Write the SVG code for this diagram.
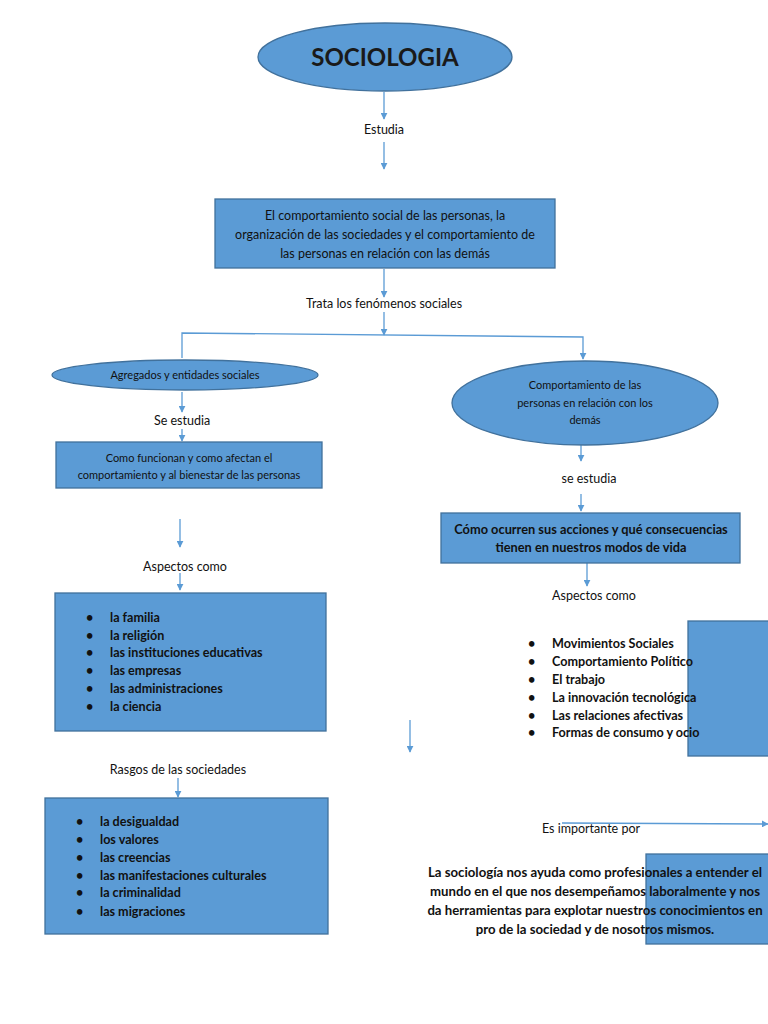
<svg xmlns="http://www.w3.org/2000/svg" width="768" height="1024" viewBox="0 0 768 1024">
<style>
.sh{fill:#5b9bd5;stroke:#41719c;stroke-width:1.3}
.t{font-family:Lato,"Liberation Sans",sans-serif;fill:#111;font-size:12.5px}
.c{text-anchor:middle}
.b{font-weight:bold}
.s{font-size:11px}
.li{font-weight:bold;font-size:12.6px}
.ln{stroke:#5b9bd5;stroke-width:1.3;fill:none}
</style>
<defs>
<marker id="ah" viewBox="0 0 10 10" refX="9" refY="5" markerWidth="7" markerHeight="7" orient="auto" markerUnits="userSpaceOnUse">
<path d="M0,0 L10,5 L0,10 z" fill="#5b9bd5"/>
</marker>
</defs>
<rect width="768" height="1024" fill="#fff"/>
<g id="connectors">
<line class="ln" x1="384" y1="92" x2="384" y2="119" marker-end="url(#ah)"/>
<line class="ln" x1="384" y1="142" x2="384" y2="169" marker-end="url(#ah)"/>
<line class="ln" x1="384" y1="269" x2="384" y2="297" marker-end="url(#ah)"/>
<line class="ln" x1="384" y1="312" x2="384" y2="335" marker-end="url(#ah)"/>
<polyline class="ln" points="182,358 182,333 583,337 583,359" marker-end="url(#ah)"/>
<line class="ln" x1="182" y1="392" x2="182" y2="412" marker-end="url(#ah)"/>
<line class="ln" x1="182" y1="429" x2="182" y2="441" marker-end="url(#ah)"/>
<line class="ln" x1="581" y1="445" x2="581" y2="461" marker-end="url(#ah)"/>
<line class="ln" x1="581" y1="494" x2="581" y2="511" marker-end="url(#ah)"/>
<line class="ln" x1="587" y1="563" x2="587" y2="586" marker-end="url(#ah)"/>
<line class="ln" x1="180" y1="519" x2="180" y2="547" marker-end="url(#ah)"/>
<line class="ln" x1="180" y1="573" x2="180" y2="590" marker-end="url(#ah)"/>
<line class="ln" x1="410" y1="720" x2="410" y2="752" marker-end="url(#ah)"/>
<line class="ln" x1="178" y1="778" x2="178" y2="797" marker-end="url(#ah)"/>
<line class="ln" x1="562" y1="823" x2="768" y2="824" marker-end="url(#ah)"/>
</g>
<g id="sociologia">
<ellipse class="sh" cx="385" cy="57" rx="127" ry="34"/>
<text class="t c b" x="385" y="66" style="font-size:24px;fill:#1a1a1a">SOCIOLOGIA</text>
</g>
<g id="lbl-estudia"><text class="t c" x="384" y="134">Estudia</text></g>
<g id="comportamiento">
<rect class="sh" x="215" y="199" width="340" height="69"/>
<text class="t c" x="385" y="220">El comportamiento social de las personas, la</text>
<text class="t c" x="385" y="239">organización de las sociedades y el comportamiento de</text>
<text class="t c" x="385" y="258">las personas en relación con las demás</text>
</g>
<g id="lbl-trata"><text class="t c" x="384" y="308">Trata los fenómenos sociales</text></g>
<g id="agregados">
<ellipse class="sh" cx="185" cy="375" rx="133" ry="15"/>
<text class="t c s" x="185" y="379">Agregados y entidades sociales</text>
</g>
<g id="lbl-se-estudia"><text class="t c" x="182" y="425">Se estudia</text></g>
<g id="como-funcionan">
<rect class="sh" x="56" y="442" width="266" height="46"/>
<text class="t c s" x="189" y="462">Como funcionan y como afectan el</text>
<text class="t c s" x="189" y="479">comportamiento y al bienestar de las personas</text>
</g>
<g id="comp-personas">
<ellipse class="sh" cx="585" cy="403" rx="133" ry="42"/>
<text class="t c s" x="585" y="389">Comportamiento de las</text>
<text class="t c s" x="585" y="407">personas en relación con los</text>
<text class="t c s" x="585" y="424">demás</text>
</g>
<g id="lbl-se-estudia2"><text class="t c" x="589" y="483">se estudia</text></g>
<g id="como-ocurren">
<rect class="sh" x="441" y="513" width="299" height="50"/>
<text class="t c b" x="591" y="534" style="font-size:12.8px">Cómo ocurren sus acciones y qué consecuencias</text>
<text class="t c b" x="591" y="552" style="font-size:12.8px">tienen en nuestros modos de vida</text>
</g>
<g id="lbl-aspectos2"><text class="t c" x="594" y="600">Aspectos como</text></g>
<g id="right-box"><rect class="sh" x="688" y="621" width="86" height="135"/></g>
<g id="aspectos-right">
<g class="t li">
<text x="528" y="648">•</text><text x="552" y="648">Movimientos Sociales</text>
<text x="528" y="666">•</text><text x="552" y="666">Comportamiento Político</text>
<text x="528" y="684">•</text><text x="552" y="684">El trabajo</text>
<text x="528" y="702">•</text><text x="552" y="702">La innovación tecnológica</text>
<text x="528" y="720">•</text><text x="552" y="720">Las relaciones afectivas</text>
<text x="528" y="737">•</text><text x="552" y="737">Formas de consumo y ocio</text>
</g>
</g>
<g id="lbl-aspectos1"><text class="t c" x="185" y="571">Aspectos como</text></g>
<g id="aspectos-left">
<rect class="sh" x="55" y="593" width="271" height="138"/>
<g class="t li">
<text x="86" y="622">•</text><text x="110" y="622">la familia</text>
<text x="86" y="640">•</text><text x="110" y="640">la religión</text>
<text x="86" y="657">•</text><text x="110" y="657">las instituciones educativas</text>
<text x="86" y="675">•</text><text x="110" y="675">las empresas</text>
<text x="86" y="693">•</text><text x="110" y="693">las administraciones</text>
<text x="86" y="711">•</text><text x="110" y="711">la ciencia</text>
</g>
</g>
<g id="lbl-rasgos"><text class="t c" x="178" y="774">Rasgos de las sociedades</text></g>
<g id="rasgos">
<rect class="sh" x="45" y="798" width="283" height="136"/>
<g class="t li">
<text x="76" y="826">•</text><text x="100" y="826">la desigualdad</text>
<text x="76" y="844">•</text><text x="100" y="844">los valores</text>
<text x="76" y="862">•</text><text x="100" y="862">las creencias</text>
<text x="76" y="880">•</text><text x="100" y="880">las manifestaciones culturales</text>
<text x="76" y="897">•</text><text x="100" y="897">la criminalidad</text>
<text x="76" y="916">•</text><text x="100" y="916">las migraciones</text>
</g>
</g>
<g id="lbl-importante"><text class="t c" x="591" y="833">Es importante por</text></g>
<g id="importante-box"><rect class="sh" x="646" y="854" width="128" height="90"/></g>
<g id="parrafo">
<text class="t c b" x="595" y="877" style="font-size:13.2px">La sociología nos ayuda como profesionales a entender el</text>
<text class="t c b" x="595" y="896" style="font-size:13.2px">mundo en el que nos desempeñamos laboralmente y nos</text>
<text class="t c b" x="595" y="915" style="font-size:13.2px">da herramientas para explotar nuestros conocimientos en</text>
<text class="t c b" x="595" y="934" style="font-size:13.2px">pro de la sociedad y de nosotros mismos.</text>
</g>
</svg>
